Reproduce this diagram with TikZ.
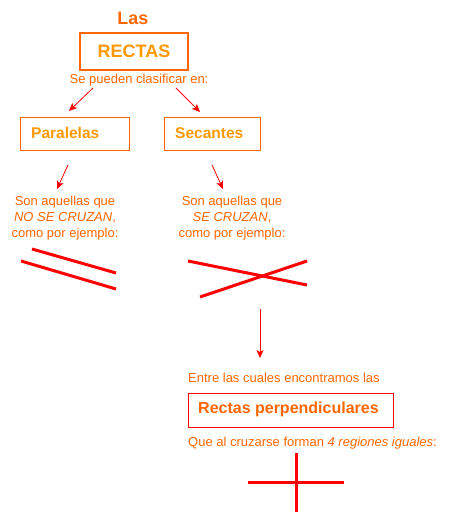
\documentclass[tikz,border=0pt]{standalone}
\usepackage{fontspec}
\setmainfont{Liberation Sans}
\usetikzlibrary{arrows.meta}
\definecolor{orA}{HTML}{FF6600}
\definecolor{orB}{HTML}{FF9900}
\definecolor{rd}{HTML}{FF0000}
\tikzset{
  box/.style={draw=orA, line width=1pt, inner sep=0pt, anchor=north west},
  boxtitle/.style={text=orB, font=\bfseries\fontsize{15.5}{18}\selectfont, inner sep=0pt, anchor=west},
  txt/.style={text=orA, font=\fontsize{13}{16}\selectfont, inner sep=0pt},
  arr/.style={draw=rd, line width=0.8pt, -{Stealth[length=8pt,width=7pt,inset=2pt]}},
  rline/.style={draw=rd, line width=3pt}
}
\begin{document}
\begin{tikzpicture}[x=1pt,y=-1pt]
\useasboundingbox (0,0) rectangle (456,521);
% title
\node[text=orA, font=\bfseries\fontsize{18}{20}\selectfont, inner sep=0pt] (las) at (133,18) {Las};
\node[draw=orA, line width=2pt, minimum width=108pt, minimum height=37pt, inner sep=0pt] (rectas) at (134,51.5) {};
\node[text=orB, font=\bfseries\fontsize{18}{20}\selectfont, inner sep=0pt] (rectastxt) at (134,51.5) {RECTAS};
\node[txt] (clasif) at (139,80) {Se pueden clasificar en:};
% arrows to boxes
\coordinate (a1s) at (93,88);
\coordinate (a1e) at (69,111);
\coordinate (a2s) at (176,88);
\coordinate (a2e) at (200,112);
\draw[arr] (a1s) -- (a1e);
\draw[arr] (a2s) -- (a2e);
% boxes
\node[box, minimum width=109pt, minimum height=33pt] (parbox) at (20,117) {};
\node[boxtitle] (partxt) at (31,133) {Paralelas};
\node[box, minimum width=96pt, minimum height=33pt] (secbox) at (164,117) {};
\node[boxtitle] (sectxt) at (175,133) {Secantes};
% arrows down
\coordinate (a3s) at (68,165);
\coordinate (a3e) at (57,189);
\coordinate (a4s) at (212,165);
\coordinate (a4e) at (223,189);
\draw[arr] (a3s) -- (a3e);
\draw[arr] (a4s) -- (a4e);
% descriptions
\node[txt, align=center] (pardesc) at (65,218) {Son aquellas que\\\textit{NO SE CRUZAN},\\como por ejemplo:};
\node[txt, align=center] (secdesc) at (232,218) {Son aquellas que\\\textit{SE CRUZAN},\\como por ejemplo:};
% parallel lines
\draw[rline] (32,249) -- (116,273);
\draw[rline] (21,261) -- (116,289);
% crossing lines
\draw[rline] (188,261) -- (307,285);
\draw[rline] (200,297) -- (307,261);
% vertical arrow
\coordinate (a5s) at (260,309);
\coordinate (a5e) at (260,358);
\draw[arr] (a5s) -- (a5e);
% perpendicular part
\node[txt, anchor=west] (entre) at (188,378) {Entre las cuales encontramos las};
\node[draw=rd, line width=1pt, inner sep=0pt, anchor=north west, minimum width=205pt, minimum height=34pt] (perpbox) at (188,393) {};
\node[text=orA, font=\bfseries\fontsize{16}{18}\selectfont, inner sep=0pt, anchor=west] (perptxt) at (198,409) {Rectas perpendiculares};
\node[txt, anchor=west] (que) at (188,443) {Que al cruzarse forman \textit{4 regiones iguales}:};
% cross
\draw[rline] (248,482) -- (344,482);
\draw[rline] (296,453) -- (296,512);
\end{tikzpicture}
\end{document}
